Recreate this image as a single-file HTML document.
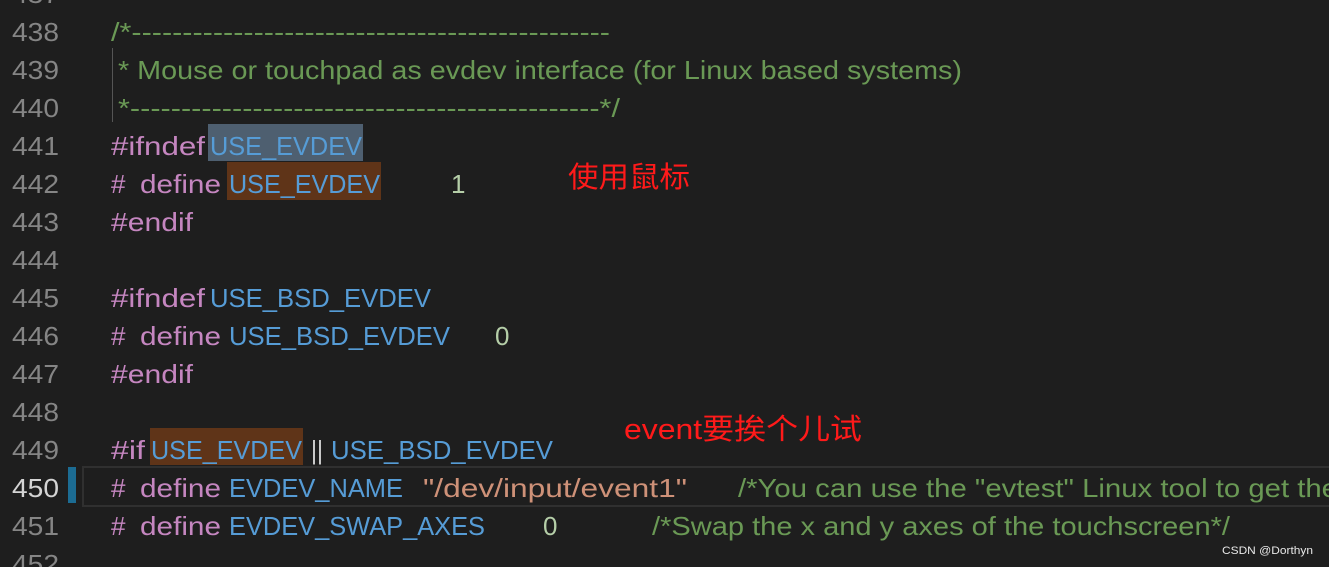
<!DOCTYPE html>
<html><head><meta charset="utf-8"><style>
html,body{margin:0;padding:0;background:#1e1e1e;width:1329px;height:567px;overflow:hidden}
svg{display:block}
text{font-family:"Liberation Sans","Noto Sans CJK SC",sans-serif;font-size:26px}
.n{fill:#858585}.c{fill:#6a9955}.p{fill:#c586c0}.b{fill:#569cd6}.g{fill:#b5cea8}.s{fill:#ce9178}.r{fill:#ff1a1a;font-size:29px}
</style></head><body>
<svg width="1329" height="567" xmlns="http://www.w3.org/2000/svg">
<rect width="1329" height="567" fill="#1e1e1e"/>
<rect x="83" y="467" width="1250" height="39" fill="none" stroke="#303030" stroke-width="2"/>
<rect x="208" y="124" width="155" height="37" fill="#4e5f70"/>
<rect x="227" y="162" width="154" height="38" fill="#5f3418"/>
<rect x="150" y="428" width="153" height="37" fill="#5f3418"/>
<line x1="112.5" y1="48" x2="112.5" y2="122" stroke="#555" stroke-width="1"/>
<rect x="68" y="467" width="8" height="36" fill="#1b7fb0" opacity="0.8"/>
<g class="n">
<text x="12" y="3" textLength="47" lengthAdjust="spacingAndGlyphs">437</text>
<text x="12" y="41" textLength="47" lengthAdjust="spacingAndGlyphs">438</text>
<text x="12" y="79" textLength="47" lengthAdjust="spacingAndGlyphs">439</text>
<text x="12" y="117" textLength="47" lengthAdjust="spacingAndGlyphs">440</text>
<text x="12" y="155" textLength="47" lengthAdjust="spacingAndGlyphs">441</text>
<text x="12" y="193" textLength="47" lengthAdjust="spacingAndGlyphs">442</text>
<text x="12" y="231" textLength="47" lengthAdjust="spacingAndGlyphs">443</text>
<text x="12" y="269" textLength="47" lengthAdjust="spacingAndGlyphs">444</text>
<text x="12" y="307" textLength="47" lengthAdjust="spacingAndGlyphs">445</text>
<text x="12" y="345" textLength="47" lengthAdjust="spacingAndGlyphs">446</text>
<text x="12" y="383" textLength="47" lengthAdjust="spacingAndGlyphs">447</text>
<text x="12" y="421" textLength="47" lengthAdjust="spacingAndGlyphs">448</text>
<text x="12" y="459" textLength="47" lengthAdjust="spacingAndGlyphs">449</text>
<text x="12" y="497" textLength="47" lengthAdjust="spacingAndGlyphs" style="fill:#d4d4d4">450</text>
<text x="12" y="535" textLength="47" lengthAdjust="spacingAndGlyphs">451</text>
<text x="12" y="573" textLength="47" lengthAdjust="spacingAndGlyphs">452</text>
</g>
<text class="c" x="111" y="41" textLength="499" lengthAdjust="spacingAndGlyphs">/*-----------------------------------------------</text>
<text class="c" x="118" y="79" textLength="844" lengthAdjust="spacingAndGlyphs">* Mouse or touchpad as evdev interface (for Linux based systems)</text>
<text class="c" x="118" y="117" textLength="502" lengthAdjust="spacingAndGlyphs">*----------------------------------------------*/</text>

<text class="p" x="111" y="155" textLength="94" lengthAdjust="spacingAndGlyphs">#ifndef</text>
<text class="b" x="210" y="155" textLength="152" lengthAdjust="spacingAndGlyphs">USE_EVDEV</text>

<text class="p" x="111" y="193">#</text>
<text class="p" x="140" y="193" textLength="81" lengthAdjust="spacingAndGlyphs">define</text>
<text class="b" x="229" y="193" textLength="151" lengthAdjust="spacingAndGlyphs">USE_EVDEV</text>
<text class="g" x="451" y="193">1</text>
<text class="r" x="568" y="187" textLength="122" lengthAdjust="spacingAndGlyphs">使用鼠标</text>

<text class="p" x="111" y="231" textLength="82" lengthAdjust="spacingAndGlyphs">#endif</text>

<text class="p" x="111" y="307" textLength="94" lengthAdjust="spacingAndGlyphs">#ifndef</text>
<text class="b" x="210" y="307" textLength="221" lengthAdjust="spacingAndGlyphs">USE_BSD_EVDEV</text>

<text class="p" x="111" y="345">#</text>
<text class="p" x="140" y="345" textLength="81" lengthAdjust="spacingAndGlyphs">define</text>
<text class="b" x="229" y="345" textLength="221" lengthAdjust="spacingAndGlyphs">USE_BSD_EVDEV</text>
<text class="g" x="495" y="345">0</text>

<text class="p" x="111" y="383" textLength="82" lengthAdjust="spacingAndGlyphs">#endif</text>

<text class="r" x="624" y="439" textLength="238" lengthAdjust="spacingAndGlyphs">event要挨个儿试</text>

<text class="p" x="111" y="459" textLength="34" lengthAdjust="spacingAndGlyphs">#if</text>
<text class="b" x="151" y="459" textLength="151" lengthAdjust="spacingAndGlyphs">USE_EVDEV</text>
<text x="311" y="459" fill="#d4d4d4" textLength="12" lengthAdjust="spacingAndGlyphs">||</text>
<text class="b" x="331" y="459" textLength="222" lengthAdjust="spacingAndGlyphs">USE_BSD_EVDEV</text>

<text class="p" x="111" y="497">#</text>
<text class="p" x="140" y="497" textLength="81" lengthAdjust="spacingAndGlyphs">define</text>
<text class="b" x="229" y="497" textLength="174" lengthAdjust="spacingAndGlyphs">EVDEV_NAME</text>
<text class="s" x="423" y="497" textLength="264" lengthAdjust="spacingAndGlyphs">"/dev/input/event1"</text>
<text class="c" x="738" y="497" textLength="600" lengthAdjust="spacingAndGlyphs">/*You can use the "evtest" Linux tool to get the</text>

<text class="p" x="111" y="535">#</text>
<text class="p" x="140" y="535" textLength="81" lengthAdjust="spacingAndGlyphs">define</text>
<text class="b" x="229" y="535" textLength="256" lengthAdjust="spacingAndGlyphs">EVDEV_SWAP_AXES</text>
<text class="g" x="543" y="535">0</text>
<text class="c" x="652" y="535" textLength="578" lengthAdjust="spacingAndGlyphs">/*Swap the x and y axes of the touchscreen*/</text>

<text x="1222" y="554" fill="#e8e8e8" style="font-size:11px" textLength="91" lengthAdjust="spacingAndGlyphs">CSDN @Dorthyn</text>
</svg>
</body></html>
